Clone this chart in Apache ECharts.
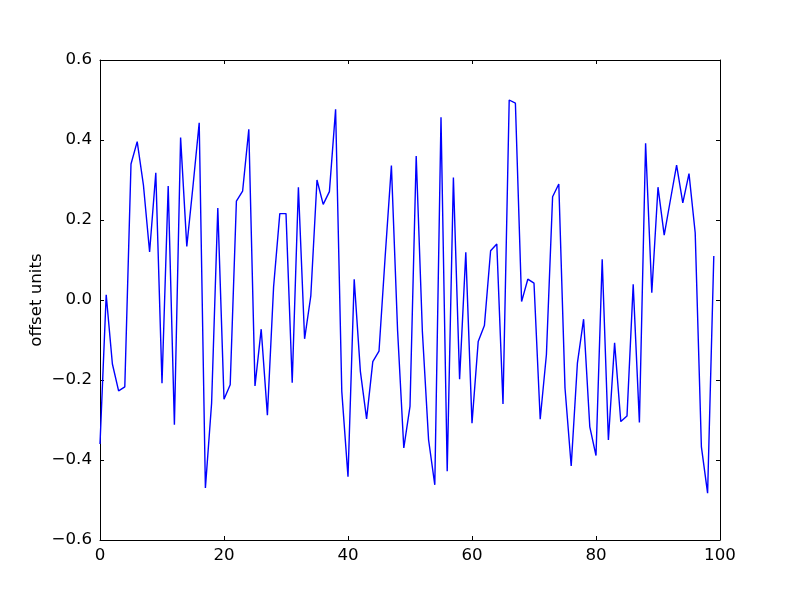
<!DOCTYPE html>
<html>
<head>
<meta charset="utf-8">
<script src="https://cdn.jsdelivr.net/npm/echarts@6/dist/echarts.min.js"></script>
<style>html,body{margin:0;padding:0;background:#fff}#c{width:800px;height:600px}</style>
</head>
<body>
<div id="c"></div>
<script>
const xValues = Array.from({length: 100}, (_, i) => i);
const offsets = [
  -0.36, 0.013, -0.16, -0.227, -0.217, 0.34, 0.396, 0.288, 0.12, 0.318,
  -0.208, 0.285, -0.312, 0.406, 0.134, 0.285, 0.443, -0.47, -0.258, 0.23,
  -0.248, -0.212, 0.247, 0.272, 0.427, -0.215, -0.073, -0.288, 0.033, 0.216,
  0.216, -0.207, 0.282, -0.097, 0.01, 0.30, 0.239, 0.271, 0.477, -0.229,
  -0.442, 0.052, -0.179, -0.297, -0.154, -0.128, 0.11, 0.336, -0.077, -0.37,
  -0.266, 0.36, -0.08, -0.35, -0.462, 0.457, -0.428, 0.306, -0.198, 0.119,
  -0.308, -0.104, -0.064, 0.123, 0.14, -0.26, 0.50, 0.492, -0.004, 0.052,
  0.042, -0.298, -0.137, 0.258, 0.29, -0.22, -0.415, -0.158, -0.048, -0.317,
  -0.389, 0.102, -0.35, -0.107, -0.304, -0.29, 0.039, -0.306, 0.392, 0.018,
  0.282, 0.162, 0.25, 0.337, 0.243, 0.316, 0.168, -0.367, -0.483, 0.11
];
const yLabel = 'offset units';

const FONT = 'DejaVu Sans';
const FS = 16.67;
const fmtY = v => (v < -1e-9 ? '\u2212' : '') + Math.abs(v).toFixed(1);

const chart = echarts.init(document.getElementById('c'), null, {renderer: 'canvas'});
const axisLine = {show: true, onZero: false, lineStyle: {color: '#000', width: 1}};
const tick = {show: true, inside: true, length: 4, lineStyle: {color: '#000', width: 1}};
chart.setOption({
  animation: false,
  backgroundColor: '#fff',
  grid: {left: 100, right: 80, top: 60, bottom: 60, containLabel: false},
  xAxis: [
    {type: 'value', min: 0, max: 100, interval: 20, position: 'bottom',
     axisLine, axisTick: tick, splitLine: {show: false},
     axisLabel: {color: '#000', fontFamily: FONT, fontSize: FS, margin: 7}},
    {type: 'value', min: 0, max: 100, interval: 20, position: 'top',
     axisLine, axisTick: tick, splitLine: {show: false}, axisLabel: {show: false}}
  ],
  yAxis: [
    {type: 'value', min: -0.6, max: 0.6, interval: 0.2, position: 'left',
     name: yLabel, nameLocation: 'middle', nameGap: 55, nameRotate: 90,
     nameMoveOverlap: false,
     nameTextStyle: {color: '#000', fontFamily: FONT, fontSize: FS},
     axisLine, axisTick: tick, splitLine: {show: false},
     axisLabel: {color: '#000', fontFamily: FONT, fontSize: FS, margin: 8, formatter: fmtY}},
    {type: 'value', min: -0.6, max: 0.6, interval: 0.2, position: 'right',
     axisLine, axisTick: tick, splitLine: {show: false}, axisLabel: {show: false}}
  ],
  series: [{
    type: 'line',
    data: xValues.map((x, i) => [x, offsets[i]]),
    showSymbol: false,
    symbol: 'none',
    lineStyle: {color: '#0000ff', width: 1.4},
    clip: true
  }]
});
</script>
</body>
</html>
